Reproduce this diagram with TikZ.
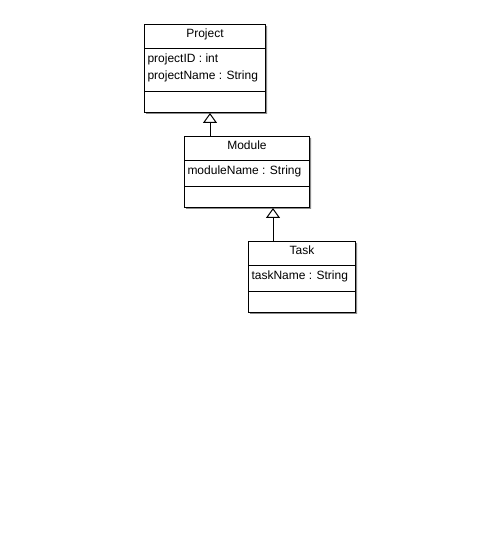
\documentclass[tikz,border=0pt]{standalone}
\usepackage{fontspec}
\setmainfont{Liberation Sans}
\usetikzlibrary{positioning,shapes.multipart,arrows.meta,shadows}

\newcommand{\hdstrut}{\rule[-7pt]{0pt}{17pt}}
\newcommand{\upstrut}{\rule{0pt}{11pt}}
\newcommand{\dnstrut}{\rule[-8pt]{0pt}{8pt}}
\newcommand{\nostrut}{\rule{0pt}{14pt}}

\tikzset{
  umlclass/.style={rectangle split, rectangle split parts=3, draw, line width=1pt,
    fill=white, inner xsep=3pt, inner ysep=3pt, align=left,
    rectangle split part align={center,left,left},
    font=\fontsize{12}{17}\selectfont,
    drop shadow={shadow xshift=1.5pt, shadow yshift=-1.5pt, fill=black!45, opacity=1}},
  inherit/.style={line width=1pt, -{Triangle[length=10pt,width=14pt,fill=white]}}
}

\begin{document}
\begin{tikzpicture}[x=1pt,y=1pt]
\useasboundingbox (0,0) rectangle (488,555);
\node[umlclass, minimum width=121pt, anchor=north west] (Project) at (144,531)
  {\hdstrut Project
   \nodepart{two}\upstrut projectID : int\\ projectName : String\dnstrut
   \nodepart{three}\nostrut};
\node[umlclass, minimum width=125pt] (Module) [below right=23pt and 40pt of Project.south west]
  {\hdstrut Module
   \nodepart{two}\upstrut moduleName : String\dnstrut
   \nodepart{three}\nostrut};
\node[umlclass, minimum width=107pt] (Task) [below right=33pt and 64pt of Module.south west]
  {\hdstrut Task
   \nodepart{two}\upstrut taskName : String\dnstrut
   \nodepart{three}\nostrut};
\coordinate (pm) at ([xshift=26pt]Module.north west);
\coordinate (mt) at ([xshift=25pt]Task.north west);
\draw[inherit] (pm) -- (pm |- Project.south);
\draw[inherit] (mt) -- (mt |- Module.south);
\end{tikzpicture}
\end{document}
